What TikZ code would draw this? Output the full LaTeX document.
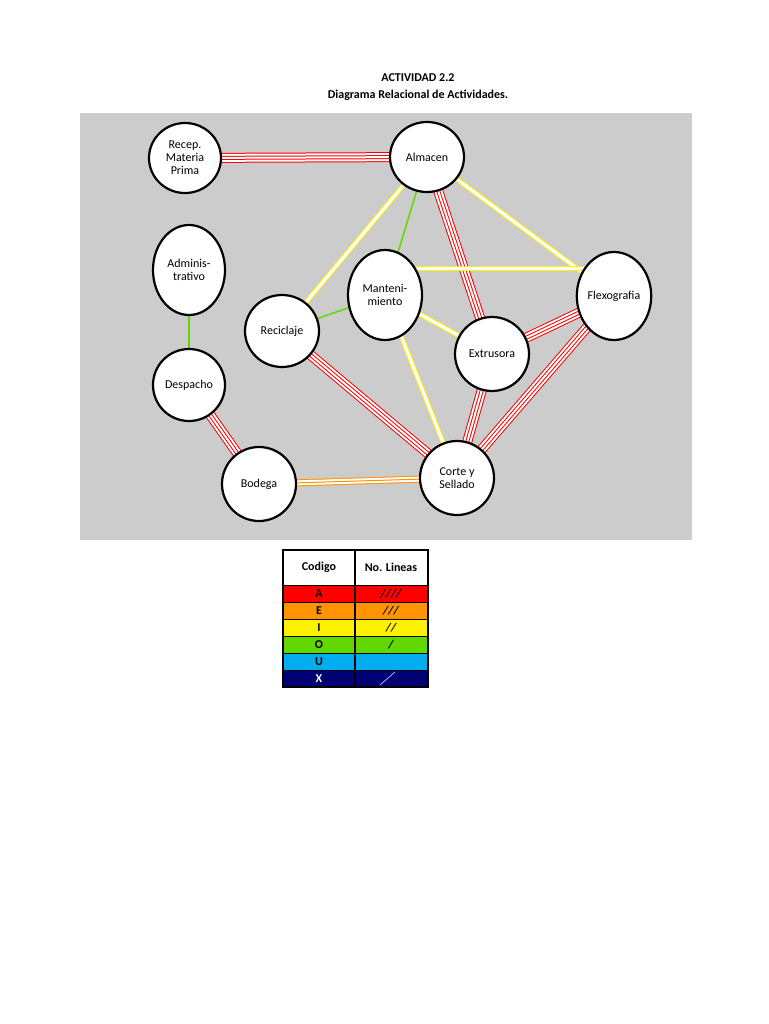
\documentclass[tikz,border=0pt]{standalone}
\usepackage{fontspec}
\setmainfont{Carlito}
\usetikzlibrary{shapes.geometric}
\colorlet{cA}{red}
\colorlet{cE}{orange!85!yellow}
\colorlet{cI}{yellow}
\colorlet{cO}{green!55!yellow!85!black}
\newcommand\relA[2]{\draw[line width=10pt,cA] (#1) -- (#2);\draw[line width=8pt,white] (#1) -- (#2);\draw[line width=4pt,cA] (#1) -- (#2);\draw[line width=2pt,white] (#1) -- (#2);}
\newcommand\relE[2]{\draw[line width=7pt,cE] (#1) -- (#2);\draw[line width=5pt,white] (#1) -- (#2);\draw[line width=1pt,cE] (#1) -- (#2);}
\newcommand\relI[2]{\draw[line width=5pt,cI] (#1) -- (#2);\draw[line width=3pt,white] (#1) -- (#2);}
\newcommand\relO[2]{\draw[line width=1.5pt,cO] (#1) -- (#2);}
\begin{document}
\begin{tikzpicture}[x=1pt,y=-1pt,
  st/.style={ellipse,draw=black,line width=2.2pt,fill=white,align=center,font=\fontsize{12}{13}\selectfont,inner sep=0pt},
  cell/.style={font=\fontsize{12}{13}\selectfont\bfseries}]
\useasboundingbox (0,0) rectangle (768,1024);
\fill[white] (0,0) rectangle (768,1024);
\fill[black!20] (80,113) rectangle (692,540);
\node[font=\fontsize{12}{14}\selectfont\bfseries] (t1) at (418,78) {ACTIVIDAD 2.2};
\node[font=\fontsize{12}{14}\selectfont\bfseries] (t2) at (418,95) {Diagrama Relacional de Actividades.};
\coordinate (rec) at (185,158);
\coordinate (alm) at (427,157);
\coordinate (adm) at (189,270);
\coordinate (des) at (189,385);
\coordinate (bod) at (259,484);
\coordinate (rei) at (282,331);
\coordinate (man) at (385,295);
\coordinate (ext) at (492,354);
\coordinate (fle) at (614,296);
\coordinate (cor) at (457,478);
\coordinate (mf1) at (400,268);
\coordinate (mf2) at (600,268);
\relA{rec}{alm}
\relI{alm}{rei}
\relO{alm}{man}
\relI{alm}{fle}
\relA{alm}{ext}
\relI{mf1}{mf2}
\relO{man}{rei}
\relI{man}{ext}
\relI{man}{cor}
\relA{rei}{cor}
\relA{ext}{fle}
\relA{ext}{cor}
\relA{fle}{cor}
\relO{des}{adm}
\relA{des}{bod}
\relE{bod}{cor}
\node[st,minimum width=72pt,minimum height=70pt] (nrec) at (rec) {Recep.\\Materia\\Prima};
\node[st,minimum width=74pt,minimum height=70pt] (nalm) at (alm) {Almacen};
\node[st,minimum width=72pt,minimum height=90pt] (nadm) at (adm) {Adminis-\\trativo};
\node[st,minimum width=72pt,minimum height=72pt] (ndes) at (des) {Despacho};
\node[st,minimum width=74pt,minimum height=74pt] (nbod) at (bod) {Bodega};
\node[st,minimum width=74pt,minimum height=72pt] (nrei) at (rei) {Reciclaje};
\node[st,minimum width=74pt,minimum height=90pt] (nman) at (man) {Manteni-\\miento};
\node[st,minimum width=74pt,minimum height=74pt] (next) at (ext) {Extrusora};
\node[st,minimum width=74pt,minimum height=88pt] (nfle) at (fle) {Flexografia};
\node[st,minimum width=74pt,minimum height=74pt] (ncor) at (cor) {Corte y\\Sellado};
% legend
\fill[cA] (283,585) rectangle (428,602);
\fill[cE] (283,602) rectangle (428,619);
\fill[cI] (283,619) rectangle (428,636);
\fill[cO] (283,636) rectangle (428,653);
\fill[cyan] (283,653) rectangle (428,670);
\fill[blue!45!black] (283,670) rectangle (428,687);
\draw[line width=1.3pt] (283,550) rectangle (428,687) (355,550) -- (355,687);
\foreach \y in {585,602,619,636,653,670} \draw[line width=0.8pt] (283,\y) -- (428,\y);
\node[cell] (h1) at (319,567) {Codigo};
\node[cell] (h2) at (391,567) {No. Lineas};
\node[cell] (ca) at (319,593.5) {A};
\node[cell] (ce) at (319,610.5) {E};
\node[cell] (ci) at (319,627.5) {I};
\node[cell] (co) at (319,644.5) {O};
\node[cell] (cu) at (319,661.5) {U};
\node[cell,text=white] (cx) at (319,678.5) {X};
\node[cell,font=\fontsize{12}{13}\selectfont\bfseries\itshape] (la) at (391,593.5) {////};
\node[cell,font=\fontsize{12}{13}\selectfont\bfseries\itshape] (le) at (391,610.5) {///};
\node[cell,font=\fontsize{12}{13}\selectfont\bfseries\itshape] (li) at (391,627.5) {//};
\node[cell,font=\fontsize{12}{13}\selectfont\bfseries\itshape] (lo) at (391,644.5) {/};
\coordinate (x1) at (380,685);
\coordinate (x2) at (395,672);
\draw[white!70!blue,line width=0.8pt] (x1) -- (x2);
\end{tikzpicture}
\end{document}
